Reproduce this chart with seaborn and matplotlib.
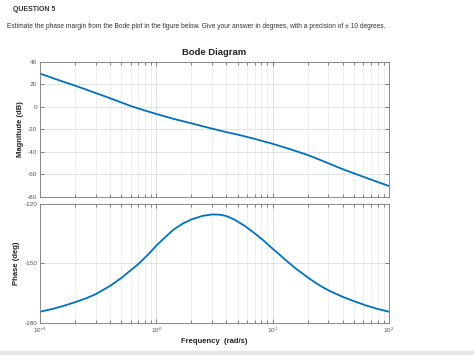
import numpy as np
import pandas as pd
import matplotlib
matplotlib.use('Agg')
import matplotlib.pyplot as plt
import seaborn as sns
from matplotlib.ticker import LogLocator, NullFormatter

sns.set_theme(style='white')
plt.rcParams['font.family'] = ['Liberation Sans', 'DejaVu Sans']
plt.rcParams['axes.unicode_minus'] = False

# values
mag_freq = [0.1, 0.13, 0.16, 0.2, 0.25, 0.3, 0.4, 0.5, 0.6, 0.8, 1, 1.4, 2,
            2.5, 3.2, 4, 5, 7, 10, 14, 20, 28, 38, 50, 69, 100]
mag_db = [29.5, 25.4, 22.2, 18.8, 15.3, 12.3, 7.7, 3.9, 0.8, -3.3, -6.3,
          -10.6, -14.6, -17.2, -20.0, -22.4, -24.6, -28.4, -32.8, -37.4,
          -42.7, -48.7, -54.4, -59.0, -64.3, -70.2]

phase_freq = [0.1, 0.13, 0.16, 0.2, 0.25, 0.3, 0.4, 0.5, 0.6, 0.7, 0.85, 1,
              1.2, 1.4, 1.7, 2, 2.5, 3, 3.5, 4, 4.7, 5.8, 6.9, 8.3, 9.7, 11.5,
              13, 16, 20, 24, 29, 35, 40, 50, 64, 80, 100]
phase_deg = [-174.3, -172.8, -171.3, -169.5, -167.5, -165.5, -161.3, -157.3,
             -153.5, -150.3, -145.5, -141, -136.6, -133, -129.8, -127.8,
             -126, -125.3, -125.4, -126.1, -127.9, -131.2, -134.5, -138.3,
             -141.9, -145.6, -148.4, -152.8, -157, -160.2, -163, -165.3,
             -166.8, -169, -171.2, -172.9, -174.3]

mag_ticks = [40, 20, 0, -20, -40, -60, -80]
phase_ticks = [-120, -150, -180]

df_mag = pd.DataFrame({'w': mag_freq, 'db': mag_db})
df_ph = pd.DataFrame({'w': phase_freq, 'deg': phase_deg})

line_col = '#0072BD'
tick_col = '#555555'

fig = plt.figure(figsize=(4.74, 3.55), dpi=100)
ax1 = fig.add_axes([0.0844, 0.445, 0.7363, 0.381])
ax2 = fig.add_axes([0.0844, 0.090, 0.7363, 0.3355])

sns.lineplot(data=df_mag, x='w', y='db', ax=ax1, color=line_col, lw=1.3)
sns.lineplot(data=df_ph, x='w', y='deg', ax=ax2, color=line_col, lw=1.3)

for ax in (ax1, ax2):
    ax.set_xscale('log')
    ax.set_xlim(0.1, 100)
    ax.xaxis.set_major_locator(LogLocator(base=10, numticks=10))
    ax.xaxis.set_minor_locator(LogLocator(base=10, subs=np.arange(2, 10), numticks=10))
    ax.grid(True, which='major', color='#dddddd', lw=0.6)
    ax.grid(True, which='minor', axis='x', color='#e8e8e8', lw=0.5)
    ax.tick_params(which='both', direction='in', top=True, right=True,
                   bottom=True, left=True, labelsize=4.6, colors=tick_col,
                   length=3, width=0.5, pad=2)
    ax.tick_params(which='minor', length=2)
    for s in ax.spines.values():
        s.set_color('#888888')
        s.set_linewidth(0.7)
    ax.set_xlabel('')
    ax.set_ylabel('')

ax1.set_ylim(-80, 40)
ax1.set_yticks(mag_ticks)
ax1.set_xticklabels([])
ax1.xaxis.set_minor_formatter(NullFormatter())
ax2.set_ylim(-180, -120)
ax2.set_yticks(phase_ticks)

ax1.set_title('Bode Diagram', fontsize=6.8, fontweight='bold', color='#222222', pad=5)
ax1.set_ylabel('Magnitude (dB)', fontsize=5.5, fontweight='bold', color='#222222', labelpad=3)
ax2.set_ylabel('Phase (deg)', fontsize=5.5, fontweight='bold', color='#222222', labelpad=3)
ax2.set_xlabel('Frequency  (rad/s)', fontsize=5.5, fontweight='bold', color='#222222', labelpad=2)

fig.text(0.027, 0.983, 'QUESTION 5', fontsize=5, fontweight='bold',
         color='#333333', va='top', ha='left')
fig.text(0.015, 0.924,
         'Estimate the phase margin from the Bode plot in the figure below. Give your answer in degrees, with a precision of \u00b1 10 degrees.',
         fontsize=4.75, color='#333333', va='center', ha='left')

# grey strip at the bottom of the page
fig.patches.append(plt.Rectangle((0, 0), 1, 0.011, transform=fig.transFigure,
                                 color='#e6e6e6', zorder=0))

fig.savefig('out.png', dpi=100)
